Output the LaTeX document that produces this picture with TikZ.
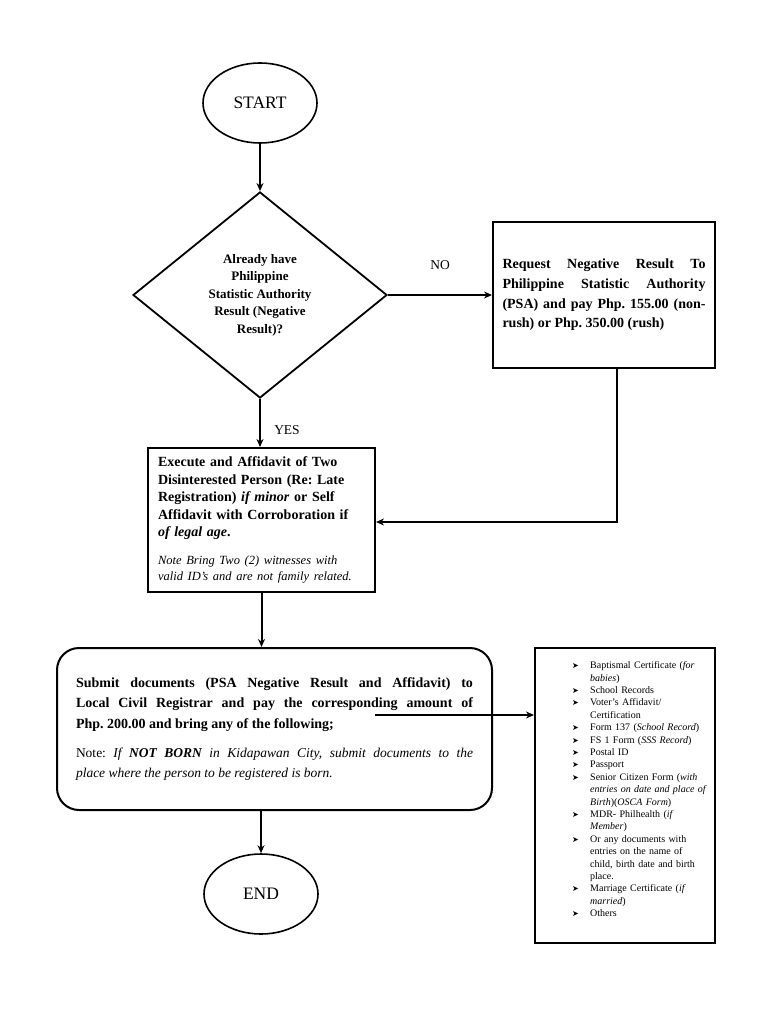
\documentclass[tikz,border=0pt]{standalone}
\usepackage{fontspec}
\setmainfont{Liberation Serif}
\newfontfamily\symf{DejaVu Sans}
\usetikzlibrary{shapes.geometric,arrows.meta}
\frenchspacing
\newcommand\lstitem[1]{\par\hangindent=18pt\hangafter=1\noindent\makebox[18pt][l]{\symf\fontsize{8}{9}\selectfont ➤}#1}
\begin{document}
\begin{tikzpicture}[x=1pt,y=-1pt,
  term/.style={ellipse, draw, line width=1.6pt, minimum width=114pt, minimum height=80pt, inner sep=0pt, font=\fontsize{17.5}{20}\selectfont},
  box/.style={draw, line width=2pt, rectangle, inner sep=0pt},
  conn/.style={line width=2pt, -{Stealth[length=8pt,width=7pt]}},
  lbl/.style={font=\fontsize{13.5}{15}\selectfont, inner sep=0pt}
]
\fill[white] (0,0) rectangle (768,1024);
\useasboundingbox (0,0) rectangle (768,1024);

\node[term] (start) at (260,103) {START};

\node[diamond, draw, line width=1.8pt, minimum width=254pt, minimum height=206pt, inner sep=0pt, align=center,
  font=\fontsize{13}{17.5}\selectfont\bfseries] (dec) at (260,295)
  {Already have\\Philippine\\Statistic Authority\\Result (Negative\\Result)?};

\node[box, minimum width=222pt, minimum height=146pt, text width=203pt, align=justify,
  font=\fontsize{14}{19.7}\selectfont\bfseries] (req) at (604,295)
  {Request Negative Result To\linebreak Philippine Statistic Authority\linebreak (PSA) and pay Php. 155.00 (non-\linebreak rush) or Php. 350.00 (rush)};

\node[box, minimum width=227pt, minimum height=144pt, text width=207pt, align=left,
  font=\fontsize{14}{17.5}\selectfont\bfseries] (exec) at (261.5,520)
  {Execute and Affidavit of Two\\Disinterested Person (Re: Late\\Registration) \textit{if minor} or Self\\Affidavit with Corroboration if\\\textit{of legal age}.\par\vspace{11pt}
  {\fontsize{12.5}{16.5}\selectfont\mdseries\itshape Note Bring Two (2) witnesses with\\valid ID's and are not family related.\par}};

\node[box, rounded corners=22pt, minimum width=435pt, minimum height=162pt, text width=397pt, align=justify,
  font=\fontsize{14}{20.5}\selectfont] (sub) at (274.5,729)
  {\textbf{Submit documents (PSA Negative Result and Affidavit) to\linebreak Local Civil Registrar and pay the corresponding amount of\linebreak Php. 200.00 and bring any of the following;}\par\vspace{8.5pt}
  {\fontsize{13.5}{20.5}\selectfont Note: \textit{If \textbf{NOT BORN} in Kidapawan City, submit documents to the\linebreak place where the person to be registered is born.}\par}};

\node[box, minimum width=180pt, minimum height=295pt] (list) at (625,795.5) {};
\node[anchor=north west, inner sep=0pt, text width=142pt, align=left,
  font=\fontsize{10}{12.4}\selectfont] (listtxt) at (572,656)
  {\lstitem{Baptismal Certificate (\textit{for}\newline\textit{babies})}
   \lstitem{School Records}
   \lstitem{Voter's Affidavit/\newline Certification}
   \lstitem{Form 137 (\textit{School Record})}
   \lstitem{FS 1 Form (\textit{SSS Record})}
   \lstitem{Postal ID}
   \lstitem{Passport}
   \lstitem{Senior Citizen Form (\textit{with}\newline\textit{entries on date and place of}\newline\textit{Birth})(\textit{OSCA Form})}
   \lstitem{MDR- Philhealth (\textit{if}\newline\textit{Member})}
   \lstitem{Or any documents with\newline entries on the name of\newline child, birth date and birth\newline place.}
   \lstitem{Marriage Certificate (\textit{if}\newline\textit{married})}
   \lstitem{Others}\par};

\node[term] (end) at (261,894) {END};

\node[lbl] (no) at (440,265) {NO};
\node[lbl] (yes) at (287,430) {YES};

\draw[conn] (start) -- (dec);
\draw[conn] (dec) -- (req);
\draw[conn] (dec.south) -- (dec.south |- exec.north);
\draw[conn] ([xshift=13pt]req.south) |- ([yshift=-2pt]exec.east);
\draw[conn] (exec.south) -- (exec.south |- sub.north);
\coordinate (sa) at (375,715);
\draw[conn] (sa) -- (sa -| list.west);
\draw[conn] (end.north |- sub.south) -- (end.north);
\end{tikzpicture}
\end{document}
